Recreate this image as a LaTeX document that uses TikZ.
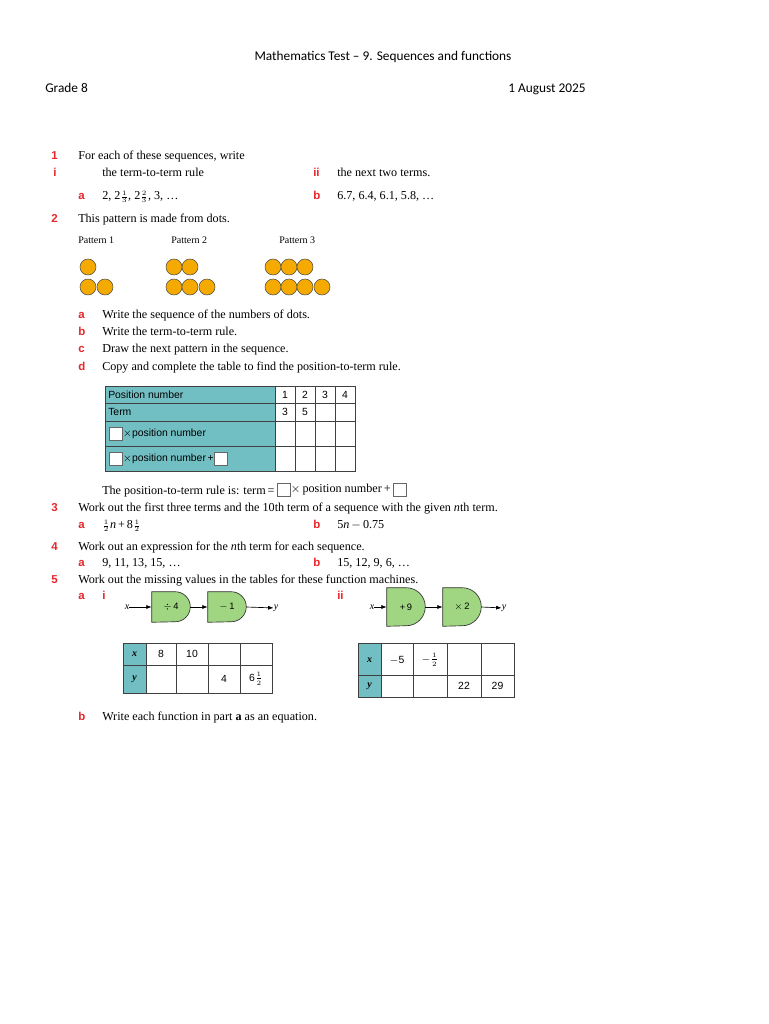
\documentclass[tikz,border=0pt]{standalone}
\usepackage{fontspec}
\setmainfont{Liberation Serif}
\newfontfamily\hdr{Carlito}
\newfontfamily\lab{Liberation Sans}
\usetikzlibrary{arrows.meta,calc}
\definecolor{qred}{RGB}{232,38,43}
\definecolor{teal}{RGB}{114,191,195}
\definecolor{dotc}{RGB}{244,170,0}
\definecolor{mach}{RGB}{160,214,130}
\begin{document}
\begin{tikzpicture}[x=0.75pt,y=-0.75pt,
  hd/.style={anchor=base west,inner sep=0,font=\hdr\fontsize{10}{12}\selectfont},
  tx/.style={anchor=base west,inner sep=0,font=\fontsize{9.1}{10}\selectfont},
  ql/.style={anchor=base west,inner sep=0,text=qred,font=\lab\bfseries\fontsize{8.6}{10}\selectfont},
  dot/.style={circle,draw=black!70,fill=dotc,minimum size=12pt,inner sep=0,line width=0.4pt},
  cell/.style={inner sep=0,font=\lab\fontsize{7.8}{9}\selectfont},
  mch/.style={minimum width=28.5pt,minimum height=22.5pt,inner sep=0,font=\lab\fontsize{7}{8}\selectfont},
  arr/.style={-{Latex[length=4pt,width=3pt]},line width=0.5pt},
  sbox/.style={draw=black!60,fill=white,minimum size=10pt,inner sep=0}]
\useasboundingbox[fill=white] (0,0) rectangle (768,1024);
% header
\node[hd,anchor=base] (title) at (383,61) {Mathematics Test – 9. Sequences and functions};
\node[hd] (grade) at (45,93) {Grade 8};
\node[hd,anchor=base east] (date) at (586,93) {1 August 2025};
% Q1
\node[ql] (q1) at (51,159) {1};
\node[tx] (q1t) at (78,159) {For each of these sequences, write};
\node[ql] (q1i) at (53,176) {i};
\node[tx] (q1it) at (102,176) {the term-to-term rule};
\node[ql] (q1ii) at (313,176) {ii};
\node[tx] (q1iit) at (337,176) {the next two terms.};
\node[ql] (q1a) at (78,199) {a};
\node[tx] (q1at) at (102,199) {2, 2$\scriptstyle\frac{1}{3}$, 2$\scriptstyle\frac{2}{3}$, 3, \ldots};
\node[ql] (q1b) at (313,199) {b};
\node[tx] (q1bt) at (337,199) {6.7, 6.4, 6.1, 5.8, \ldots};
% Q2
\node[ql] (q2) at (51,222) {2};
\node[tx] (q2t) at (78,222) {This pattern is made from dots.};
\node[tx,font=\fontsize{7.5}{8}\selectfont] (p1) at (78,243) {Pattern 1};
\node[tx,font=\fontsize{7.5}{8}\selectfont] (p2) at (171,243) {Pattern 2};
\node[tx,font=\fontsize{7.5}{8}\selectfont] (p3) at (279,243) {Pattern 3};
\foreach \x/\y [count=\i] in {88/267,88/287,105/287,
  174/267,190/267,174/287,190/287,207/287,
  273/267,289/267,305/267,273/287,289/287,305/287,322/287}
  \node[dot] (d\i) at (\x,\y) {};
\foreach \l/\y/\t in {a/318/Write the sequence of the numbers of dots.,
  b/335/Write the term-to-term rule.,
  c/352/Draw the next pattern in the sequence.,
  d/370/Copy and complete the table to find the position-to-term rule.}{
  \node[ql] (q2\l) at (78,\y) {\l};
  \node[tx] (q2\l t) at (102,\y) {\t};}
% table
\fill[teal] (105,386) rectangle (275,471);
\draw[black!75,line width=0.7pt] (105,386) rectangle (355,471);
\foreach \y in {403,421,446} \draw[black!75,line width=0.7pt] (105,\y) -- (355,\y);
\foreach \x in {275,295,315,335} \draw[black!75,line width=0.7pt] (\x,386) -- (\x,471);
\node[cell,anchor=west] (tr1) at (108,394.5) {Position number};
\node[cell,anchor=west] (tr2) at (108,412) {Term};
\node[sbox] (b1) at (116,433.5) {};
\node[cell,anchor=west] (tr3) at (b1.east) {$\times$position number};
\node[sbox] (b2) at (116,458.5) {};
\node[cell,anchor=west] (tr4) at (b2.east) {$\times$position number\,+};
\node[sbox,anchor=west] (b3) at (tr4.east) {};
\foreach \x/\t in {285/1,305/2,325/3,345/4} \node[cell] (pn\t) at (\x,394.5) {\t};
\node[cell] (tm1) at (285,412) {3};
\node[cell] (tm2) at (305,412) {5};
\node[tx] (rule) at (102,494) {The position-to-term rule is: term\,=\,};
\node[sbox,anchor=west] (rb1) at ($(rule.base east)+(0,3.3pt)$) {};
\node[tx,anchor=west] (rule2) at (rb1.east) {$\times$\,position number\,+\,};
\node[sbox,anchor=west] (rb2) at (rule2.east) {};
% Q3
\node[ql] (q3) at (51,511) {3};
\node[tx] (q3t) at (78,511) {Work out the first three terms and the 10th term of a sequence with the given \textit{n}th term.};
\node[ql] (q3a) at (78,528) {a};
\node[tx] (q3at) at (102,528) {$\scriptstyle\frac{1}{2}$\textit{n}\,+\,8$\scriptstyle\frac{1}{2}$};
\node[ql] (q3b) at (313,528) {b};
\node[tx] (q3bt) at (337,528) {5\textit{n}\,$-$\,0.75};
% Q4
\node[ql] (q4) at (51,550) {4};
\node[tx] (q4t) at (78,550) {Work out an expression for the \textit{n}th term for each sequence.};
\node[ql] (q4a) at (78,566) {a};
\node[tx] (q4at) at (102,566) {9, 11, 13, 15, \ldots};
\node[ql] (q4b) at (313,566) {b};
\node[tx] (q4bt) at (337,566) {15, 12, 9, 6, \ldots};
% Q5
\node[ql] (q5) at (51,583) {5};
\node[tx] (q5t) at (78,583) {Work out the missing values in the tables for these function machines.};
\node[ql] (q5a) at (78,599) {a};
\node[ql] (q5i) at (102,599) {i};
\node[ql] (q5ii) at (337,599) {ii};
% machines
\newcommand{\machshape}[2]{\draw[black!80,fill=mach,line width=0.5pt] (#1.north west) -- ($(#1.north east)-(#2,0)$) arc[start angle=90,end angle=-90,radius=#2] -- (#1.south west) -- cycle;}
\node[mch] (m1) at (171,607) {};
\node[mch] (m2) at (227,607) {};
\node[mch,minimum height=28.5pt] (m3) at (406,607) {};
\node[mch,minimum height=28.5pt] (m4) at (462,607) {};
\machshape{m1}{11.25pt}\machshape{m2}{11.25pt}
\machshape{m3}{14.25pt}\machshape{m4}{14.25pt}
\node[mch] (m1t) at (m1) {$\div$\,4};
\node[mch] (m2t) at (m2) {$-$\,1};
\node[mch] (m3t) at (m3) {+\,9};
\node[mch] (m4t) at (m4) {$\times$\,2};
\node[tx,anchor=center,font=\itshape\fontsize{7.5}{9}\selectfont] (xi) at (127,607) {x};
\node[tx,anchor=center,font=\itshape\fontsize{7.5}{9}\selectfont] (yi) at (276,608) {y};
\node[tx,anchor=center,font=\itshape\fontsize{7.5}{9}\selectfont] (xii) at (372,607) {x};
\node[tx,anchor=center,font=\itshape\fontsize{7.5}{9}\selectfont] (yii) at (504,608) {y};
\draw[arr] (xi) -- (m1.west);
\draw[arr] (m1.east) -- (m2.west);
\draw[arr] (m2.east) -- (yi);
\draw[arr] (xii) -- (m3.west);
\draw[arr] (m3.east) -- (m4.west);
\draw[arr] (m4.east) -- (yii);
% table i
\fill[teal] (123,643) rectangle (146,693);
\draw[black!75,line width=0.7pt] (123,643) rectangle (272,693);
\draw[black!75,line width=0.7pt] (123,665) -- (272,665);
\foreach \x in {146,176,208,240} \draw[black!75,line width=0.7pt] (\x,643) -- (\x,693);
\node[cell,font=\bfseries\itshape\fontsize{7.5}{9}\selectfont] (tix) at (134.5,654) {x};
\node[cell,font=\bfseries\itshape\fontsize{7.5}{9}\selectfont] (tiy) at (134.5,679) {y};
\node[cell] (ti1) at (161,654) {8};
\node[cell] (ti2) at (192,654) {10};
\node[cell] (ti3) at (224,679) {4};
\node[cell] (ti4) at (256,679) {6$\frac{1}{2}$};
% table ii
\fill[teal] (358,643) rectangle (381,697);
\draw[black!75,line width=0.7pt] (358,643) rectangle (514,697);
\draw[black!75,line width=0.7pt] (358,675) -- (514,675);
\foreach \x in {381,413,447,481} \draw[black!75,line width=0.7pt] (\x,643) -- (\x,697);
\node[cell,font=\bfseries\itshape\fontsize{7.5}{9}\selectfont] (tiix) at (369.5,660) {x};
\node[cell,font=\bfseries\itshape\fontsize{7.5}{9}\selectfont] (tiiy) at (369.5,686) {y};
\node[cell] (tii1) at (397,660) {$-$5};
\node[cell] (tii2) at (430,660) {$-\frac{1}{2}$};
\node[cell] (tii3) at (464,686) {22};
\node[cell] (tii4) at (497.5,686) {29};
% b
\node[ql] (q5b) at (78,720) {b};
\node[tx] (q5bt) at (102,720) {Write each function in part \textbf{a} as an equation.};
\end{tikzpicture}
\end{document}
